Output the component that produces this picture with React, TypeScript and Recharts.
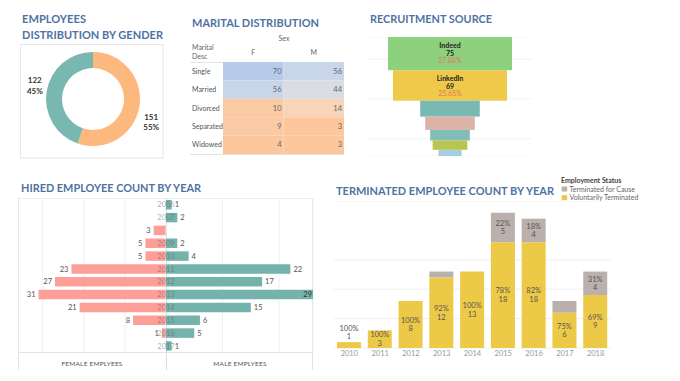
import {
  Bar, BarChart, CartesianGrid, Cell, LabelList, Pie, PieChart,
  Scatter, ScatterChart, XAxis, YAxis,
} from 'recharts';

// gender donut
const genderNames = ['Female', 'Male'];
const genderCounts = [151, 122];
const genderColors = ['#fdb97d', '#79b8b0'];

// marital table
const maritalStatus = ['Single', 'Married', 'Divorced', 'Separated', 'Widowed'];
const maritalF = [70, 56, 10, 9, 4];
const maritalM = [56, 44, 14, 3, 3];

// recruitment funnel
const sources = ['Indeed', 'LinkedIn', 'Google Search', 'Employee Referral', 'Diversity Job Fair', 'CareerBuilder', 'Website'];
const sourceCounts = [75, 69, 36, 30, 24, 21, 14];
const sourceColors = ['#8dd07e', '#efc94a', '#79b9b3', '#dbb3a8', '#84bdb7', '#b8c650', '#a3cfe0'];

// hires by year
const hireYears = ['2006', '2007', '2008', '2009', '2010', '2011', '2012', '2013', '2014', '2015', '2016', '2017'];
const hiredFemale = [0, 0, 3, 5, 5, 23, 27, 31, 21, 8, 1, 0];
const hiredMale = [1, 2, 0, 2, 4, 22, 17, 29, 15, 6, 5, 1];

// terminations by year
const termYears = ['2010', '2011', '2012', '2013', '2014', '2015', '2016', '2017', '2018'];
const termVoluntary = [1, 3, 8, 12, 13, 18, 18, 6, 9];
const termCause = [0, 0, 0, 1, 0, 5, 4, 2, 4];

const FONT = 'Lato, "Open Sans", sans-serif';
const TITLE = '#4f72a2';
const RAD = Math.PI / 180;

const renderGenderLabel = ({ cx, cy, midAngle, outerRadius, value, percent }: any) => {
  const r = outerRadius + 12;
  const x = cx + r * Math.cos(-midAngle * RAD);
  const right = x > cx;
  const y = cy + r * Math.sin(-midAngle * RAD) + (right ? 12 : -5);
  return (
    <text x={x} y={y} textAnchor="middle" fontSize={8} fontWeight={700} fill="#333">
      <tspan x={x} dy={-1}>{value}</tspan>
      <tspan x={x} dy={10.5}>{Math.round(percent * 100)}%</tspan>
    </text>
  );
};

function GenderDonut() {
  const data = genderNames.map((name, i) => ({ name, value: genderCounts[i] }));
  return (
    <PieChart width={143} height={114} margin={{ top: 0, right: 0, bottom: 0, left: 0 }}>
      <Pie data={data} dataKey="value" cx={73} cy={55} innerRadius={31} outerRadius={47}
        startAngle={90} endAngle={-270} stroke="none" labelLine={false}
        label={renderGenderLabel} isAnimationActive={false}>
        {data.map((d, i) => <Cell key={d.name} fill={genderColors[i]} />)}
      </Pie>
    </PieChart>
  );
}

// diverging blue-orange, as in the source table
const colorStops: [number, number[]][] = [
  [3, [253, 198, 157]], [10, [251, 202, 165]], [14, [247, 212, 186]],
  [44, [217, 221, 227]], [56, [201, 214, 233]], [70, [182, 202, 234]],
];
function cellColor(v: number) {
  if (v <= colorStops[0][0]) return `rgb(${colorStops[0][1].join(',')})`;
  for (let i = 1; i < colorStops.length; i++) {
    const [v1, c1] = colorStops[i];
    const [v0, c0] = colorStops[i - 1];
    if (v <= v1) {
      const t = (v - v0) / (v1 - v0);
      return `rgb(${c0.map((c, k) => Math.round(c + (c1[k] - c) * t)).join(',')})`;
    }
  }
  return `rgb(${colorStops[colorStops.length - 1][1].join(',')})`;
}

const TABLE_W = 160, TABLE_H = 112, TABLE_LEFT = 35, TABLE_TOP = 18;
const CELL_W = (TABLE_W - TABLE_LEFT - 4) / 2;
const CELL_H = (TABLE_H - TABLE_TOP - 2) / maritalStatus.length;

const renderCell = ({ cx, cy, payload }: any) => (
  <g>
    <rect x={cx - CELL_W / 2} y={cy - CELL_H / 2} width={CELL_W} height={CELL_H} fill={cellColor(payload.value)} />
    <text x={cx + CELL_W / 2 - 2} y={cy + 2.6} textAnchor="end" fontSize={7.5} fill="#666">{payload.value}</text>
  </g>
);

const SexTick = ({ x, payload }: any) => (
  <text x={x} y={10.5} textAnchor="middle" fontSize={7} fill="#666">{payload.value}</text>
);
const StatusTick = ({ y, payload }: any) => (
  <text x={4} y={y + 2.5} fontSize={7} fill="#555">{payload.value}</text>
);

function MaritalTable() {
  const data = maritalStatus.flatMap((status, i) => [
    { status, sex: 'F', value: maritalF[i] },
    { status, sex: 'M', value: maritalM[i] },
  ]);
  return (
    <ScatterChart width={TABLE_W} height={TABLE_H} margin={{ top: 0, right: 4, bottom: 2, left: 0 }}>
      <XAxis type="category" dataKey="sex" orientation="top" allowDuplicatedCategory={false}
        axisLine={false} tickLine={false} height={TABLE_TOP} interval={0} tick={<SexTick />} />
      <YAxis type="category" dataKey="status" allowDuplicatedCategory={false} reversed
        axisLine={false} tickLine={false} width={TABLE_LEFT} interval={0} tick={<StatusTick />} />
      <Scatter data={data} shape={renderCell} isAnimationActive={false} />
    </ScatterChart>
  );
}

function RecruitmentFunnel() {
  const total = sourceCounts.reduce((a, b) => a + b, 0);
  const maxCount = Math.max(...sourceCounts);
  const row: Record<string, string | number> = { stage: 'Recruitment Source' };
  sources.forEach((s, i) => { row[s] = sourceCounts[i]; });

  // stacked height comes from the y scale, width is scaled to the largest source
  const segment = (i: number) => (p: any) => {
    const w = (Number(p.width) * sourceCounts[i]) / maxCount;
    const cx = Number(p.x) + Number(p.width) / 2;
    const top = Math.min(Number(p.y), Number(p.y) + Number(p.height));
    const h = Math.abs(Number(p.height));
    return (
      <g>
        <rect x={cx - w / 2} y={top} width={w} height={h} fill={sourceColors[i]} />
        {i < 2 && (
          <g fontSize={7} textAnchor="middle" fontWeight={700}>
            <text x={cx} y={top + 11} fill="#222">{sources[i]}</text>
            <text x={cx} y={top + 18.8} fill="#222">{sourceCounts[i]}</text>
            <text x={cx} y={top + 26.3} fill="#e0785a" fontWeight={400}>
              {((sourceCounts[i] / total) * 100).toFixed(2)}%
            </text>
          </g>
        )}
      </g>
    );
  };

  return (
    <BarChart width={165} height={119} data={[row]} margin={{ top: 0, right: 0, bottom: 0, left: 0 }} barSize={124}>
      <CartesianGrid vertical={false} stroke="#f2f2f2" />
      <XAxis dataKey="stage" hide />
      <YAxis type="number" domain={[0, total]} reversed hide ticks={[7, 50, 95, 140, 185, 230]} />
      {sources.map((s, i) => (
        <Bar key={s} dataKey={s} stackId="f" fill={sourceColors[i]} shape={segment(i)} isAnimationActive={false} />
      ))}
    </BarChart>
  );
}

const FemaleValueLabel = (p: any) => {
  if (!p.value) return null;
  const left = Math.min(Number(p.x), Number(p.x) + Number(p.width));
  return <text x={left - 3} y={Number(p.y) + Number(p.height) / 2 + 2.6} textAnchor="end" fontSize={7.5} fill="#555">{p.value}</text>;
};
const MALE_W = 147;
const MaleValueLabel = (p: any) => {
  const right = Number(p.x) + Number(p.width);
  const y = Number(p.y) + Number(p.height) / 2 + 2.6;
  if (right + 12 > MALE_W) {
    return <text x={MALE_W - 1} y={y} textAnchor="end" fontSize={7.5} fill="#333">{p.value}</text>;
  }
  return <text x={right + 3} y={y} fontSize={7.5} fill="#555">{p.value}</text>;
};
const YearLabel = (p: any) => (
  <text x={Number(p.x)} y={Number(p.y) + Number(p.height) / 2 + 2.6} textAnchor="middle" fontSize={7.5} fill="#5a5a5a" fillOpacity={0.5}>{p.value}</text>
);

function HiredChart() {
  const rows = hireYears.map((year, i) => ({ year, female: hiredFemale[i], male: hiredMale[i] }));
  const m = { top: 0, right: 0, bottom: 0, left: 0 };
  return (
    <>
      <div style={{ position: 'absolute', left: 18, top: 198 }}>
        <BarChart width={148} height={154} layout="vertical" data={rows} margin={m} barSize={9.5}>
          <CartesianGrid horizontal={false} stroke="#efefef" />
          <XAxis type="number" domain={[0, 36]} reversed hide ticks={[10, 20, 30]} />
          <YAxis type="category" dataKey="year" hide />
          <Bar dataKey="female" fill="#fd9e99" isAnimationActive={false}>
            <LabelList dataKey="female" content={FemaleValueLabel} />
          </Bar>
        </BarChart>
      </div>
      <div className="male-side" style={{ position: 'absolute', left: 166, top: 198 }}>
        <BarChart width={MALE_W} height={154} layout="vertical" data={rows} margin={m} barSize={9.5}>
          <CartesianGrid horizontal={false} stroke="#efefef" />
          <XAxis type="number" domain={[0, 26]} allowDataOverflow hide ticks={[10, 20]} />
          <YAxis type="category" dataKey="year" hide />
          <Bar dataKey="male" fill="#73b3ab" isAnimationActive={false}>
            <LabelList dataKey="male" content={MaleValueLabel} />
            <LabelList dataKey="year" content={YearLabel} />
          </Bar>
        </BarChart>
      </div>
    </>
  );
}

const StackLabel = (above: boolean, minH: number) => (p: any) => {
  const h = Number(p.height);
  if (!p.value || h <= 0) return null;
  const [pct, count] = String(p.value).split('|');
  const cx = Number(p.x) + Number(p.width) / 2;
  let y1: number, y2: number;
  if (h >= minH) {
    const cy = Number(p.y) + h / 2;
    y1 = cy - 1.7; y2 = cy + 6.9;
  } else if (above) {
    y1 = Number(p.y) - 11.4; y2 = Number(p.y) - 3.4;
  } else return null;
  return (
    <g fontSize={7.5} fill="#555" textAnchor="middle">
      <text x={cx} y={y1}>{pct}</text>
      <text x={cx} y={y2}>{count}</text>
    </g>
  );
};
const VolLabel = StackLabel(true, 14);
const CauseLabel = StackLabel(false, 15);

function TerminatedChart() {
  const rows = termYears.map((year, i) => {
    const v = termVoluntary[i], c = termCause[i], t = v + c;
    return {
      year, voluntary: v, cause: c,
      volLabel: v ? `${Math.round((v / t) * 100)}%|${v}` : '',
      causeLabel: c ? `${Math.round((c / t) * 100)}%|${c}` : '',
    };
  });
  return (
    <BarChart width={277} height={161} data={rows} margin={{ top: 0, right: 0, bottom: 0, left: 0 }} barSize={24}>
      <CartesianGrid vertical={false} stroke="#efefef" />
      <XAxis dataKey="year" axisLine={false} tickLine={false} tickSize={0} tickMargin={3} height={14}
        interval={0} tick={{ fontSize: 7.5, fill: '#999' }} />
      <YAxis hide domain={[0, 25]} ticks={[0, 5, 10, 15, 20, 25]} />
      <Bar dataKey="voluntary" stackId="t" fill="#edc948" isAnimationActive={false}>
        <LabelList dataKey="volLabel" content={VolLabel} />
      </Bar>
      <Bar dataKey="cause" stackId="t" fill="#bab0ac" isAnimationActive={false}>
        <LabelList dataKey="causeLabel" content={CauseLabel} />
      </Bar>
    </BarChart>
  );
}

export default function App() {
  const line = '#e3e3e3';
  const title = (x: number, y: number, len: number, s: string) => (
    <text x={x} y={y} textLength={len} lengthAdjust="spacingAndGlyphs">{s}</text>
  );
  return (
    <div style={{ position: 'absolute', left: 0, top: 0, width: 680, height: 381, background: '#fff', fontFamily: FONT, overflow: 'hidden' }}>
      <style>{'.male-side svg{overflow:visible}'}</style>
      <svg width={680} height={381} style={{ position: 'absolute', left: 0, top: 0 }} fontFamily={FONT}>
        <g fontSize={12} fontWeight={700} fill={TITLE}>
          {title(22, 22.7, 64, 'EMPLOYEES')}
          {title(22, 39, 141, 'DISTRIBUTION BY GENDER')}
          {title(192, 26.7, 127, 'MARITAL DISTRIBUTION')}
          {title(370, 23.3, 122, 'RECRUITMENT SOURCE')}
          {title(21, 191.7, 180, 'HIRED EMPLOYEE COUNT BY YEAR')}
          {title(336, 195, 218, 'TERMINATED EMPLOYEE COUNT BY YEAR')}
        </g>
        <rect x={20.5} y={44.5} width={142.5} height={113.5} fill="none" stroke="#e8e8e8" />
        <g fontSize={7} fill="#666">
          <text x={284} y={40.5} textAnchor="middle">Sex</text>
          <text x={192} y={49.5}>Marital</text>
          <text x={192} y={58.5}>Desc</text>
        </g>
        <line x1={190} x2={223} y1={62.5} y2={62.5} stroke={line} />
        <line x1={190} x2={344} y1={154.5} y2={154.5} stroke={line} />
        <line x1={18} x2={313} y1={198.5} y2={198.5} stroke="#eeeeee" />
        <line x1={18} x2={313} y1={352.5} y2={352.5} stroke={line} />
        <line x1={18.5} x2={18.5} y1={198} y2={370} stroke={line} />
        <line x1={312.5} x2={312.5} y1={198} y2={370} stroke={line} />
        <line x1={166.5} x2={166.5} y1={198} y2={370} stroke="#dcdcdc" />
        <g fontSize={6.5} fill="#555" textAnchor="middle" letterSpacing={0.2}>
          <text x={92} y={365.5}>FEMALE EMPLYEES</text>
          <text x={240} y={365.5}>MALE EMPLYEES</text>
        </g>
        <text x={561} y={183.3} fontSize={7} fontWeight={700} fill="#444">Employment Status</text>
        <rect x={561.7} y={186.5} width={5.5} height={5} fill="#bab0ac" />
        <rect x={561.7} y={195.2} width={5.5} height={5} fill="#edc948" />
        <g fontSize={7} fill="#666">
          <text x={569.5} y={191.6}>Terminated for Cause</text>
          <text x={569.5} y={200.3}>Voluntarily Terminated</text>
        </g>
      </svg>
      <div style={{ position: 'absolute', left: 20, top: 44 }}><GenderDonut /></div>
      <div style={{ position: 'absolute', left: 188, top: 44 }}><MaritalTable /></div>
      <div style={{ position: 'absolute', left: 367, top: 37 }}><RecruitmentFunnel /></div>
      <HiredChart />
      <div style={{ position: 'absolute', left: 334, top: 201 }}><TerminatedChart /></div>
    </div>
  );
}
